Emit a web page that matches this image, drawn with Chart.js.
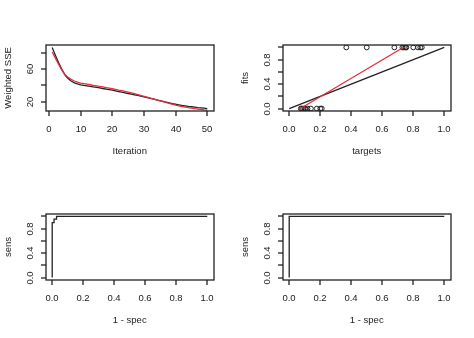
<!DOCTYPE html>
<html>
<head>
<meta charset="utf-8">
<script src="https://cdn.jsdelivr.net/npm/chart.js@4.4.0/dist/chart.umd.min.js"></script>
<style>
  html, body { margin: 0; padding: 0; background: #fff; }
  #wrap { position: relative; width: 474px; height: 338px; }
  #wrap canvas { position: absolute; }
</style>
</head>
<body>
<div id="wrap">
  <canvas id="p1" width="237" height="169" style="left:0;top:0"></canvas>
  <canvas id="p2" width="237" height="169" style="left:237px;top:0"></canvas>
  <canvas id="p3" width="237" height="169" style="left:0;top:169px"></canvas>
  <canvas id="p4" width="237" height="169" style="left:237px;top:169px"></canvas>
</div>
<script>
// ---- panel 1: iterative error ----
const iterations = [1, 2, 3, 4, 5, 6, 7, 8, 9, 10, 11, 12, 13, 14, 15, 16, 17, 18, 19, 20,
  21, 22, 23, 24, 25, 26, 27, 28, 29, 30, 31, 32, 33, 34, 35, 36, 37, 38, 39, 40,
  41, 42, 43, 44, 45, 46, 47, 48, 49, 50];
const trainError = [86.5, 77, 68, 60, 53, 48.5, 45.5, 43.3, 42, 40.8,
  40.1, 39.5, 38.9, 38.2, 37.6, 37, 36.3, 35.6, 34.9, 34.2,
  33.4, 32.6, 31.8, 31, 30.2, 29.4, 28.6, 27.8, 26.9, 26,
  25.1, 24.2, 23.3, 22.4, 21.5, 20.6, 19.7, 18.8, 17.9, 17.1,
  16.4, 15.7, 15.1, 14.5, 14, 13.5, 13, 12.6, 12.2, 11.8];
const testError = [81, 73.5, 66, 59, 53.5, 50, 47.5, 45.5, 44, 42.9,
  42.3, 41.6, 40.9, 40.2, 39.5, 38.8, 38.2, 37.5, 36.8, 36,
  35.2, 34.4, 33.7, 32.8, 31.9, 30.9, 29.9, 28.9, 27.8, 26.8,
  25.7, 24.6, 23.5, 22.4, 21.3, 20.2, 19.1, 18.1, 17, 15.9,
  15.1, 14.3, 13.6, 12.9, 12.3, 11.7, 11.2, 10.7, 10.2, 9.8];
const iterTicks = [0, 10, 20, 30, 40, 50];
const iterLabels = ["0", "10", "20", "30", "40", "50"];
const sseTicks = [20, 40, 60, 80];
const sseLabels = ["20", "", "60", ""];

// ---- panel 2: regression error ----
const targets = [0.075, 0.082, 0.09, 0.1, 0.105, 0.118, 0.14, 0.178, 0.2, 0.21,
  0.368, 0.5, 0.678, 0.73, 0.74, 0.75, 0.755, 0.8, 0.83, 0.845, 0.855];
const fits = [0, 0, 0, 0, 0, 0, 0, 0, 0, 0,
  1, 1, 1, 1, 1, 1, 1, 1, 1, 1, 1];
const idealX = [0, 1];
const idealY = [0, 1];
const lmX = [0.072, 0.735];
const lmY = [0, 1];

// ---- panels 3 & 4: ROC ----
const roc1Spec = [0, 0, 0.012, 0.028, 0.118, 1];
const roc1Sens = [0, 0.86, 0.9, 0.955, 1, 1];
const roc2Spec = [0, 0, 1];
const roc2Sens = [0, 1, 1];

const unitTicks = [0, 0.2, 0.4, 0.6, 0.8, 1];
const unitXLabels = ["0.0", "0.2", "0.4", "0.6", "0.8", "1.0"];
const unitYLabels = ["0.0", "", "0.4", "", "0.8", ""];

const FONT = "9.5px 'Liberation Sans', Arial, sans-serif";
const RED = "#E3303E";
const INK = "#222";

function pts(xs, ys) {
  return xs.map((x, i) => ({ x: x, y: ys[i] }));
}

// R style box + outward ticks + labels
const rAxes = {
  id: "rAxes",
  afterDraw(chart, args, o) {
    const { ctx, chartArea: a } = chart;
    const sx = chart.scales.x, sy = chart.scales.y;
    const L = Math.round(a.left), R = Math.round(a.right);
    const T = Math.round(a.top), B = Math.round(a.bottom);
    ctx.save();
    ctx.strokeStyle = INK;
    ctx.lineWidth = 1.3;
    ctx.strokeRect(L, T, R - L, B - T);
    ctx.font = FONT;
    ctx.fillStyle = INK;
    ctx.textAlign = "center";
    ctx.textBaseline = "middle";

    o.xTicks.forEach((v, i) => {
      const px = Math.round(sx.getPixelForValue(v));
      ctx.beginPath(); ctx.moveTo(px, B); ctx.lineTo(px, B + 5); ctx.stroke();
      if (o.xLabels[i]) ctx.fillText(o.xLabels[i], px, B + 18);
    });
    o.yTicks.forEach((v, i) => {
      const py = Math.round(sy.getPixelForValue(v));
      ctx.beginPath(); ctx.moveTo(L, py); ctx.lineTo(L - 5, py); ctx.stroke();
      if (o.yLabels[i]) {
        ctx.save();
        ctx.translate(L - 16, py);
        ctx.rotate(-Math.PI / 2);
        ctx.fillText(o.yLabels[i], 0, 0);
        ctx.restore();
      }
    });

    ctx.fillText(o.xTitle, (a.left + a.right) / 2, B + 40);
    ctx.save();
    ctx.translate(L - 38, (a.top + a.bottom) / 2);
    ctx.rotate(-Math.PI / 2);
    ctx.fillText(o.yTitle, 0, 0);
    ctx.restore();
    ctx.restore();
  }
};

function makeChart(id, datasets, xr, yr, axes) {
  return new Chart(document.getElementById(id), {
    type: "scatter",
    data: { datasets: datasets },
    options: {
      responsive: false,
      animation: false,
      events: [],
      layout: { padding: { left: 46, right: 23.5, top: 45, bottom: 58 } },
      plugins: { legend: { display: false }, tooltip: { enabled: false }, rAxes: axes },
      scales: {
        x: { type: "linear", display: false, min: xr[0], max: xr[1] },
        y: { type: "linear", display: false, min: yr[0], max: yr[1] }
      }
    },
    plugins: [rAxes]
  });
}

function lineSet(data, color, extra) {
  return Object.assign({
    data: data, showLine: true, borderColor: color, borderWidth: 1.3,
    pointRadius: 0, fill: false, tension: 0
  }, extra || {});
}

const unitRange = [-0.04, 1.04];

makeChart("p1", [
  lineSet(pts(iterations, testError), RED),
  lineSet(pts(iterations, trainError), INK)
], [-0.96, 51.96], [8.8, 89.5], {
  xTicks: iterTicks, xLabels: iterLabels, yTicks: sseTicks, yLabels: sseLabels,
  xTitle: "Iteration", yTitle: "Weighted SSE"
});

makeChart("p2", [
  lineSet(pts(lmX, lmY), RED),
  lineSet(pts(idealX, idealY), INK),
  {
    data: pts(targets, fits), showLine: false, pointStyle: "circle",
    pointRadius: 2.4, pointBorderWidth: 1, pointBorderColor: INK,
    pointBackgroundColor: "rgba(0,0,0,0)"
  }
], unitRange, unitRange, {
  xTicks: unitTicks, xLabels: unitXLabels, yTicks: unitTicks, yLabels: unitYLabels,
  xTitle: "targets", yTitle: "fits"
});

makeChart("p3", [
  lineSet(pts(roc1Spec, roc1Sens), INK, { stepped: "after" })
], unitRange, unitRange, {
  xTicks: unitTicks, xLabels: unitXLabels, yTicks: unitTicks, yLabels: unitYLabels,
  xTitle: "1 - spec", yTitle: "sens"
});

makeChart("p4", [
  lineSet(pts(roc2Spec, roc2Sens), INK, { stepped: "after" })
], unitRange, unitRange, {
  xTicks: unitTicks, xLabels: unitXLabels, yTicks: unitTicks, yLabels: unitYLabels,
  xTitle: "1 - spec", yTitle: "sens"
});
</script>
</body>
</html>
